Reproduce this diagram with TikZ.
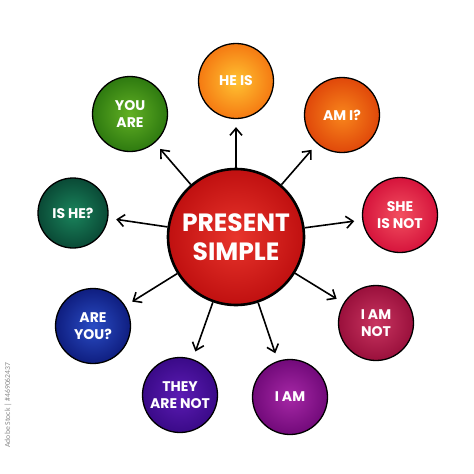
\documentclass[tikz,border=0pt]{standalone}
\usepackage{fontspec}
\setmainfont{Poppins}
\newfontfamily\wmfont{Carlito}
\usetikzlibrary{arrows.meta}
\definecolor{psin}{HTML}{E8352C}\definecolor{psout}{HTML}{C01010}
\definecolor{heisin}{HTML}{FFC232}\definecolor{heisout}{HTML}{F57A12}
\definecolor{amiin}{HTML}{F8861C}\definecolor{amiout}{HTML}{E0480A}
\definecolor{shein}{HTML}{F25060}\definecolor{sheout}{HTML}{D6143C}
\definecolor{iamnin}{HTML}{C83560}\definecolor{iamnout}{HTML}{9A103C}
\definecolor{iamin}{HTML}{A628A6}\definecolor{iamout}{HTML}{720A7A}
\definecolor{theyin}{HTML}{5C1CB4}\definecolor{theyout}{HTML}{3A0A88}
\definecolor{arein}{HTML}{2A4CC4}\definecolor{areout}{HTML}{0F1E80}
\definecolor{isin}{HTML}{1A845C}\definecolor{isout}{HTML}{0A4A36}
\definecolor{youin}{HTML}{62B024}\definecolor{youout}{HTML}{2E7A10}
\begin{document}
\begin{tikzpicture}[x=1pt,y=-1pt,
  bubble/.style={circle,draw=black,line width=1.3pt,minimum size=75pt,inner sep=0pt,
    align=center,text=white,font=\bfseries\fontsize{14}{17}\selectfont},
  arr/.style={line width=1.6pt,-{Straight Barb[length=7pt,width=12pt,line width=1.6pt]},shorten >=8pt}]
\useasboundingbox (0,0) rectangle (474,474);
%center
\node[bubble,minimum size=136pt,line width=2.6pt,inner color=psin,outer color=psout,
  font=\bfseries\fontsize{25}{29}\selectfont] (ps) at (236,237) {PRESENT\\SIMPLE};
%outer ring, clockwise from top
\node[bubble,inner color=heisin,outer color=heisout] (heis) at (236,81) {HE IS};
\node[bubble,inner color=amiin,outer color=amiout] (ami) at (342,115) {AM I?};
\node[bubble,inner color=shein,outer color=sheout] (sheisnot) at (400,215) {SHE\\IS NOT};
\node[bubble,inner color=iamnin,outer color=iamnout] (iamnot) at (376,323) {I AM\\NOT};
\node[bubble,inner color=iamin,outer color=iamout] (iam) at (290,397) {I AM};
\node[bubble,inner color=theyin,outer color=theyout] (theyarenot) at (180,395) {THEY\\ARE NOT};
\node[bubble,inner color=arein,outer color=areout] (areyou) at (93,326) {ARE\\YOU?};
\node[bubble,minimum size=70pt,inner color=isin,outer color=isout] (ishe) at (73,213) {IS HE?};
\node[bubble,inner color=youin,outer color=youout] (youare) at (130,114) {YOU\\ARE};
%arrows
\foreach \t in {heis,ami,sheisnot,iamnot,iam,theyarenot,areyou,ishe,youare}
  \draw[arr] (ps) -- (\t);
%stock mark
\node[rotate=90,text=black!45,font=\wmfont\fontsize{7.7}{9}\selectfont] (mark) at (8,405) {Adobe Stock | \#469062437};
\end{tikzpicture}
\end{document}
